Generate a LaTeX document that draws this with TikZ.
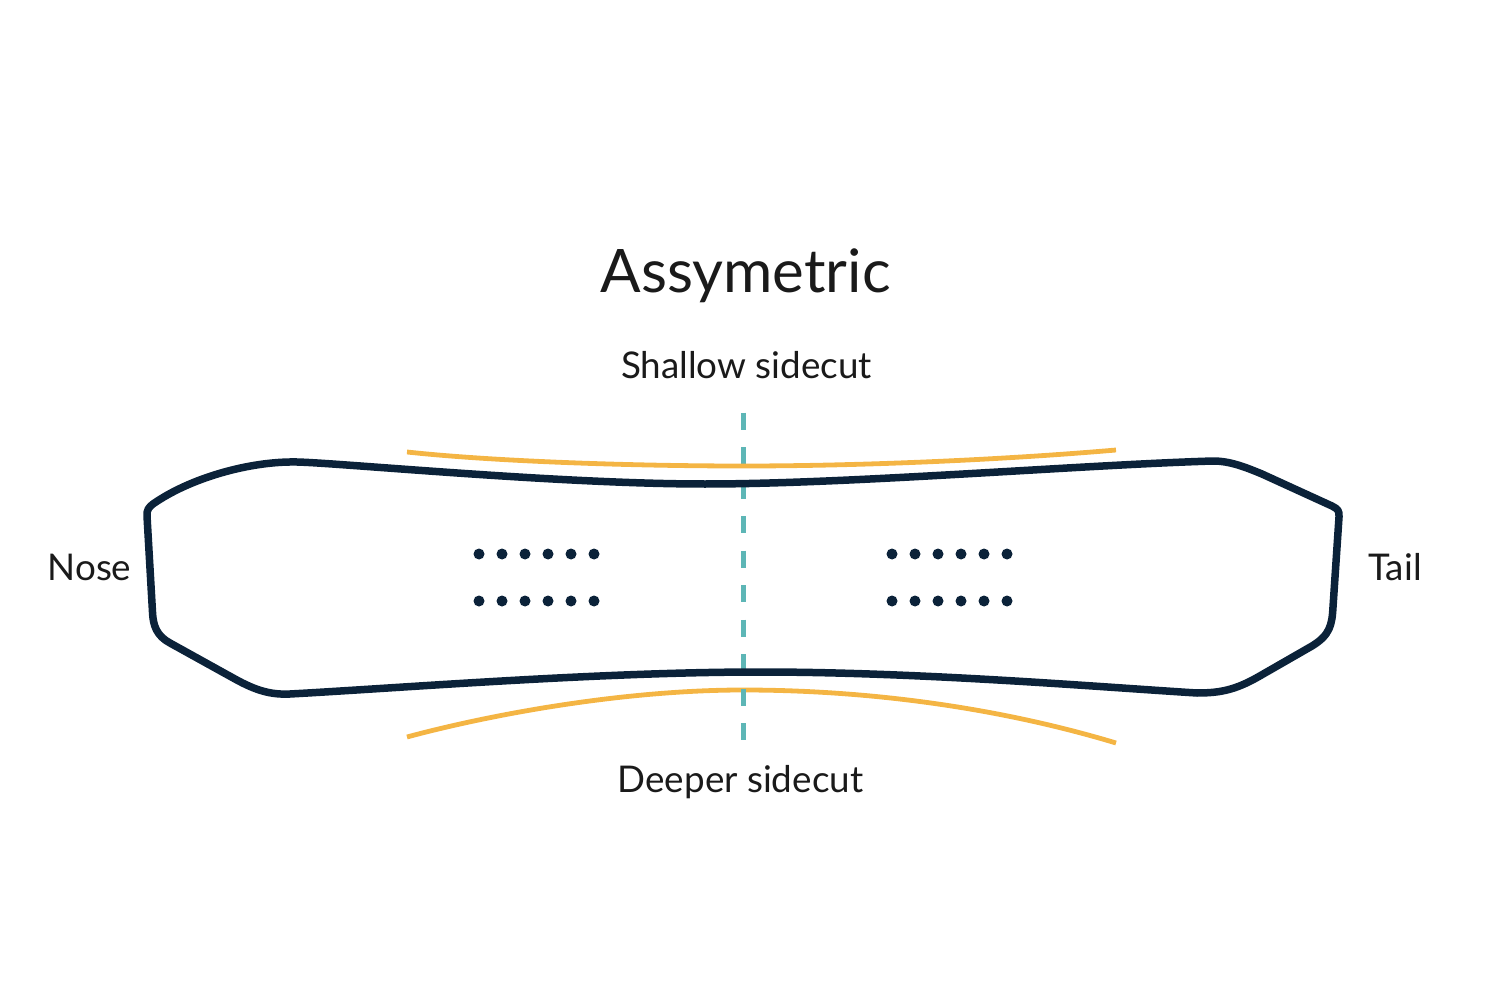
\documentclass[tikz,border=0pt]{standalone}
\usepackage{fontspec}
\setmainfont{Lato}
\usepackage{xcolor}
\definecolor{boardnavy}{HTML}{0B2239}
\definecolor{cutorange}{HTML}{F4B544}
\definecolor{axisteal}{HTML}{5DB6B6}
\definecolor{labelink}{HTML}{1A1A1A}
\begin{document}
\begin{tikzpicture}[
    x=1pt,y=-1pt,
    board/.style={draw=boardnavy,line width=7.5pt,line join=round},
    cut/.style={draw=cutorange,line width=4.8pt},
    axis/.style={draw=axisteal,line width=5pt,dash pattern=on 17pt off 17.5pt},
    hole/.style={circle,fill=boardnavy,inner sep=0pt,minimum size=11pt},
    lbl/.style={anchor=base,inner sep=0pt,text=labelink,font=\fontsize{36.8}{40}\selectfont},
    titlelbl/.style={lbl,font=\fontsize{60}{70}\selectfont}
  ]
    \useasboundingbox (0,0) rectangle (1500,1000);
    \node[titlelbl] (title) at (745.5,293) {Assymetric};
    \node[lbl] (shallow) at (746.5,378) {Shallow sidecut};
    \node[lbl] (deeper) at (740.5,792) {Deeper sidecut};
    \node[lbl] (nose) at (89.5,580) {Nose};
    \node[lbl] (tail) at (1395,580) {Tail};
    % sidecut under the centre line
    \draw[cut] (407,737) .. controls (500,712) and (630,690) .. (743,690)
      .. controls (870,690) and (1000,708) .. (1116,743);
    \coordinate (axistop) at (743,412.5);
    \coordinate (axisbot) at (743,740);
    \draw[axis] (axistop) -- (axisbot);
    \draw[cut] (407,452) .. controls (500,462) and (640,466) .. (743,466)
      .. controls (860,466) and (1000,460) .. (1116,450);
    % board outline
    \draw[board] (147,516) .. controls (146.5,510) and (149,507) .. (153,504)
      .. controls (190,478) and (250,461) .. (297,462)
      .. controls (340,463) and (560,484) .. (705,484)
      .. controls (850,484) and (1080,465) .. (1213,461)
      .. controls (1230,461) and (1245,467) .. (1262,474)
      -- (1332,506) .. controls (1338,509) and (1339.5,511) .. (1339,517)
      -- (1333,607) .. controls (1332,625) and (1330,635) .. (1312,646)
      -- (1258,677) .. controls (1235,690) and (1220,693) .. (1197,693)
      .. controls (1100,687) and (920,672) .. (760,672)
      .. controls (600,672) and (400,688) .. (290,694)
      .. controls (270,695) and (255,690) .. (235,679)
      -- (170,643) .. controls (157,636) and (153,626) .. (152.5,612)
      -- cycle;
    % insert holes
    \foreach \row/\ypos in {a/554,b/601}{
      \foreach \i [evaluate=\i as \xl using 479+23*(\i-1), evaluate=\i as \xr using 892+23*(\i-1)] in {1,...,6}{
        \node[hole] (l\row\i) at (\xl,\ypos) {};
        \node[hole] (r\row\i) at (\xr,\ypos) {};
      }
    }
  \end{tikzpicture}
\end{document}
